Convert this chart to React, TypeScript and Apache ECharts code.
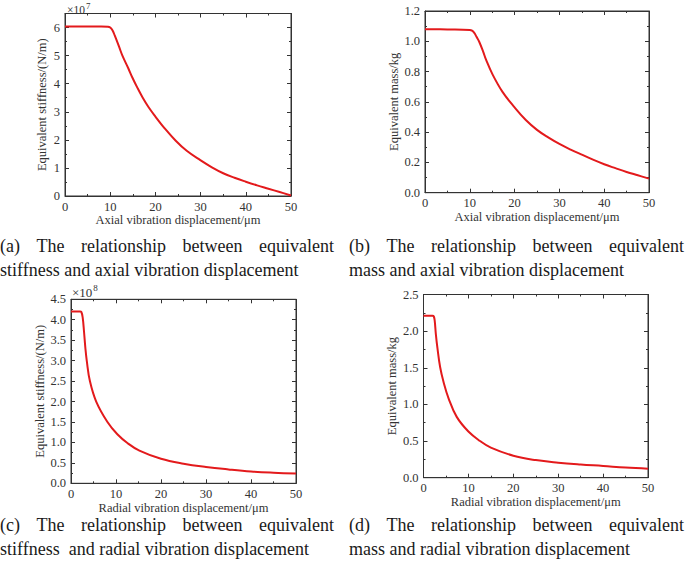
import React, { useEffect, useRef } from "react";
import * as echarts from "echarts";

// Panel (a): axial displacement (μm) vs equivalent stiffness (×10^7 N/m)
const axialXA = [0, 2, 4, 6, 8, 9.5, 10, 10.5, 11, 12, 12.7, 14, 14.9, 16, 17.2, 18.5, 20, 22, 24.5, 27, 30, 32.5, 35, 37.5, 40, 42.5, 45, 47.5, 50];
const stiffA = [6.04, 6.04, 6.04, 6.04, 6.04, 6.03, 6.0, 5.9, 5.72, 5.3, 5.0, 4.55, 4.22, 3.86, 3.5, 3.16, 2.83, 2.42, 1.97, 1.6, 1.27, 1.02, 0.81, 0.65, 0.51, 0.38, 0.26, 0.14, 0.02];

// Panel (b): axial displacement (μm) vs equivalent mass (kg)
const axialXB = [0, 5, 10, 10.5, 11, 11.5, 12.1, 13, 13.6, 15.1, 17.3, 19.9, 22.5, 25, 27.5, 30, 32.5, 35, 37.5, 40, 42.5, 45, 47.5, 50];
const massB = [1.08, 1.078, 1.075, 1.07, 1.055, 1.03, 0.997, 0.93, 0.88, 0.78, 0.666, 0.567, 0.48, 0.415, 0.365, 0.322, 0.285, 0.251, 0.218, 0.188, 0.162, 0.137, 0.115, 0.093];

// Panel (c): radial displacement (μm) vs equivalent stiffness (×10^8 N/m)
const radialXC = [0, 1, 2, 2.3, 2.6, 2.9, 3.2, 3.5, 4.2, 5.6, 8.1, 10.3, 12.6, 15.2, 20, 25, 30, 35, 40, 45, 50];
const stiffC = [4.2, 4.2, 4.2, 4.19, 4.05, 3.7, 3.3, 3.0, 2.5, 2.0, 1.5, 1.2, 0.98, 0.8, 0.6, 0.48, 0.4, 0.34, 0.29, 0.26, 0.24];

// Panel (d): radial displacement (μm) vs equivalent mass (kg)
const radialXD = [0, 1, 2, 2.3, 2.5, 2.75, 3.1, 3.7, 4.45, 5.6, 7.4, 10, 12.6, 15, 20, 25, 30, 35, 40, 45, 50];
const massD = [2.21, 2.21, 2.21, 2.2, 2.14, 1.96, 1.77, 1.51, 1.31, 1.08, 0.83, 0.63, 0.5, 0.41, 0.3, 0.24, 0.205, 0.18, 0.16, 0.138, 0.123];

const xTitleAxial = "Axial vibration displacement/μm";
const xTitleRadial = "Radial vibration displacement/μm";
const yTitleStiff = "Equivalent stiffness/(N/m)";
const yTitleMass = "Equivalent mass/kg";

const captionA = ["(a) The relationship between equivalent", "stiffness and axial vibration displacement"];
const captionB = ["(b) The relationship between equivalent", "mass and axial vibration displacement"];
const captionC = ["(c) The relationship between equivalent", "stiffness  and radial vibration displacement"];
const captionD = ["(d) The relationship between equivalent", "mass and radial vibration displacement"];

const FONT = "'Liberation Serif', 'Times New Roman', serif";
const AX = "#333333";
const RED = "#e31a1c";

export default function App() {
  const ref = useRef<HTMLDivElement>(null);
  useEffect(() => {
    if (!ref.current) return;
    const chart = echarts.init(ref.current, null, { renderer: "svg" });

    const grids = [
      { left: 65, top: 13.5, width: 226, height: 182.5 },
      { left: 425, top: 11, width: 224, height: 181.7 },
      { left: 71, top: 299.3, width: 225, height: 184 },
      { left: 423.5, top: 294.5, width: 224.5, height: 183.2 },
    ];
    const panels = [
      { xs: axialXA, ys: stiffA, xName: xTitleAxial, yName: yTitleStiff, max: 6.5, interval: 1, dec: 0, yGap: 17, xGap: 17 },
      { xs: axialXB, ys: massB, xName: xTitleAxial, yName: yTitleMass, max: 1.2, interval: 0.2, dec: 1, yGap: 23, xGap: 18 },
      { xs: radialXC, ys: stiffC, xName: xTitleRadial, yName: yTitleStiff, max: 4.5, interval: 0.5, dec: 1, yGap: 22, xGap: 16 },
      { xs: radialXD, ys: massD, xName: xTitleRadial, yName: yTitleMass, max: 2.5, interval: 0.5, dec: 1, yGap: 21, xGap: 16 },
    ];

    const textStyle = { fontFamily: FONT, fontSize: 12.5, color: AX };
    const xAxes: any[] = [];
    const yAxes: any[] = [];
    const series: any[] = [];
    panels.forEach((p, i) => {
      const common = {
        gridIndex: i,
        splitLine: { show: false },
        axisLine: { show: true, onZero: false, lineStyle: { color: AX, width: 1 } },
        axisTick: { show: true, inside: true, length: 4, lineStyle: { color: AX } },
        minorTick: { show: true, splitNumber: 2, length: 2, lineStyle: { color: AX } },
      };
      const exact = Math.abs(p.max / p.interval - Math.round(p.max / p.interval)) < 1e-6;
      xAxes.push({
        ...common,
        type: "value", position: "bottom", min: 0, max: 50, interval: 10,
        name: p.xName, nameLocation: "middle", nameGap: p.xGap,
        nameTextStyle: textStyle,
        axisLabel: { ...textStyle, margin: 4 },
      });
      xAxes.push({
        ...common,
        type: "value", position: "top", min: 0, max: 50, interval: 10,
        axisLabel: { show: false },
      });
      yAxes.push({
        ...common,
        type: "value", position: "left", min: 0, max: p.max, interval: p.interval,
        name: p.yName, nameLocation: "middle", nameGap: p.yGap,
        nameTextStyle: textStyle,
        axisLabel: {
          ...textStyle, margin: 5, showMaxLabel: exact,
          formatter: (v: number) => v.toFixed(p.dec),
        },
      });
      yAxes.push({
        ...common,
        type: "value", position: "right", min: 0, max: p.max, interval: p.interval,
        axisLabel: { show: false },
      });
      series.push({
        type: "line",
        xAxisIndex: i * 2,
        yAxisIndex: i * 2,
        data: p.xs.map((x, k) => [x, p.ys[k]]),
        showSymbol: false,
        smooth: 0.4,
        lineStyle: { color: RED, width: 2 },
        z: 3,
      });
      // empty series so the mirrored top/right axes are in use
      series.push({
        type: "line",
        xAxisIndex: i * 2 + 1,
        yAxisIndex: i * 2 + 1,
        data: [],
        showSymbol: false,
        silent: true,
      });
    });

    // caption layout (justified first line)
    const capSize = 18;
    const canvas = document.createElement("canvas");
    const ctx = canvas.getContext("2d")!;
    const graphics: any[] = [];
    const addCaption = (lines: string[], x0: number, x1: number, y1: number, y2: number) => {
      ctx.font = `${capSize}px 'Liberation Serif'`;
      const words = lines[0].split(" ");
      const widths = words.map((w) => ctx.measureText(w).width);
      const total = widths.reduce((a, b) => a + b, 0);
      const gap = (x1 - x0 - total) / (words.length - 1);
      let x = x0;
      words.forEach((w, k) => {
        graphics.push({
          type: "text", x, y: y1,
          style: { text: w, font: `${capSize}px ${FONT}`, fill: "#1a1a1a", textVerticalAlign: "middle", textAlign: "left" },
        });
        x += widths[k] + gap;
      });
      graphics.push({
        type: "text", x: x0, y: y2,
        style: { text: lines[1], font: `${capSize}px ${FONT}`, fill: "#1a1a1a", textVerticalAlign: "middle", textAlign: "left" },
      });
    };
    addCaption(captionA, 0, 334, 246, 270);
    addCaption(captionB, 349, 684, 246, 270);
    addCaption(captionC, 0, 334, 525, 549);
    addCaption(captionD, 349, 684, 525, 549);

    // exponent labels
    const expo = (x: number, y: number, base: number, e: string) => {
      ctx.font = `${base}px 'Liberation Serif'`;
      const w = ctx.measureText("×10").width;
      graphics.push({
        type: "text", x, y,
        style: { text: "×10", font: `${base}px ${FONT}`, fill: AX, textVerticalAlign: "middle", textAlign: "left" },
      });
      graphics.push({
        type: "text", x: x + w + 1, y: y - 4,
        style: { text: e, font: `9px ${FONT}`, fill: AX, textVerticalAlign: "middle", textAlign: "left" },
      });
    };
    expo(67, 10, 11.5, "7");
    expo(72, 292, 13, "8");

    chart.setOption({
      animation: false,
      backgroundColor: "#ffffff",
      grid: grids.map((g) => ({ ...g, containLabel: false, show: true, borderColor: AX, borderWidth: 1, backgroundColor: "transparent" })),
      xAxis: xAxes,
      yAxis: yAxes,
      series,
      graphic: graphics,
    });
    return () => chart.dispose();
  }, []);
  return <div ref={ref} style={{ position: "fixed", left: 0, top: 0, width: 685, height: 564 }} />;
}
